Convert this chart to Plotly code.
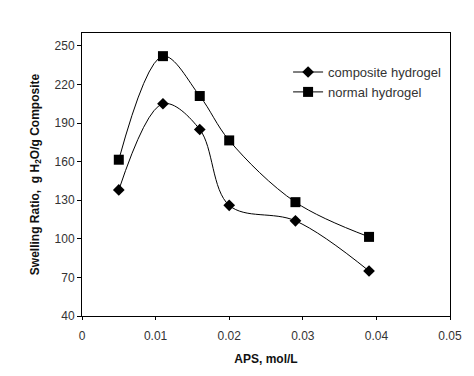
import plotly.graph_objects as go

aps = [0.005, 0.011, 0.016, 0.020, 0.029, 0.039]
composite = [138, 205, 185, 126, 114, 75]
normal = [161.5, 242, 211, 176.5, 128.5, 101.5]
x_ticks = [0, 0.01, 0.02, 0.03, 0.04, 0.05]
x_ticktext = ["0", "0.01", "0.02", "0.03", "0.04", "0.05"]
y_ticks = [40, 70, 100, 130, 160, 190, 220, 250]

fig = go.Figure()
fig.add_trace(go.Scatter(
    x=aps, y=composite, name="composite hydrogel", mode="lines+markers",
    line=dict(color="black", width=1, shape="spline", smoothing=1),
    marker=dict(symbol="diamond", size=9, color="black"),
))
fig.add_trace(go.Scatter(
    x=aps, y=normal, name="normal hydrogel", mode="lines+markers",
    line=dict(color="black", width=1, shape="spline", smoothing=1),
    marker=dict(symbol="square", size=10, color="black"),
))

fig.update_layout(
    width=466, height=368,
    margin=dict(l=74, r=14, t=25, b=53),
    paper_bgcolor="white", plot_bgcolor="white",
    font=dict(family="Liberation Sans, Arial", size=12, color="#333"),
    showlegend=True,
    legend=dict(x=0.56, y=0.915, xanchor="left", yanchor="top",
                bgcolor="rgba(0,0,0,0)", font=dict(size=13, color="#333"),
                traceorder="normal"),
    xaxis=dict(
        range=[0, 0.05], tickvals=x_ticks, ticktext=x_ticktext,
        showgrid=False, zeroline=False, showline=True, linecolor="black",
        linewidth=1, mirror=True, ticks="outside", ticklen=3, tickcolor="black",
        ticklabelstandoff=6,
        title=dict(text="<b>APS, mol/L</b>", font=dict(size=12, color="#111"), standoff=12),
    ),
    yaxis=dict(
        range=[40, 260], tickvals=y_ticks,
        showgrid=False, zeroline=False, showline=True, linecolor="black",
        linewidth=1, mirror=True, ticks="outside", ticklen=4, tickcolor="black",
        title=dict(text="<b>Swelling Ratio,  g H<sub>2</sub>O/g Composite</b>",
                   font=dict(size=12, color="#111"), standoff=12),
    ),
)

fig.write_html("out.html")
